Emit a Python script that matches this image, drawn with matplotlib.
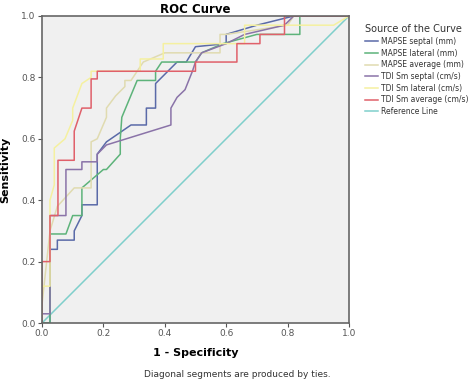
import matplotlib
matplotlib.use("Agg")
import matplotlib.pyplot as plt

# ROC curves (1 - specificity, sensitivity)
mapse_septal_x = [0, 0.026, 0.026, 0.05, 0.05, 0.105, 0.105, 0.13, 0.13, 0.18, 0.18, 0.21,
                  0.29, 0.34, 0.34, 0.37, 0.37, 0.41, 0.44, 0.47, 0.50, 0.60, 0.60, 0.70, 0.82, 1.0]
mapse_septal_y = [0, 0, 0.24, 0.24, 0.27, 0.27, 0.30, 0.35, 0.385, 0.385, 0.55, 0.59,
                  0.645, 0.645, 0.70, 0.70, 0.78, 0.82, 0.85, 0.85, 0.90, 0.91, 0.94, 0.97, 1.0, 1.0]

mapse_lateral_x = [0, 0.026, 0.026, 0.078, 0.10, 0.13, 0.13, 0.20, 0.21, 0.255, 0.255, 0.26,
                   0.31, 0.37, 0.37, 0.39, 0.50, 0.52, 0.59, 0.70, 0.84, 0.84, 1.0]
mapse_lateral_y = [0, 0, 0.29, 0.29, 0.35, 0.35, 0.44, 0.50, 0.50, 0.55, 0.60, 0.67,
                   0.79, 0.79, 0.82, 0.85, 0.85, 0.88, 0.91, 0.94, 0.94, 1.0, 1.0]

mapse_average_x = [0, 0, 0.026, 0.05, 0.105, 0.16, 0.16, 0.18, 0.21, 0.21, 0.24, 0.27, 0.27,
                   0.29, 0.33, 0.40, 0.58, 0.58, 0.60, 0.80, 0.82, 1.0]
mapse_average_y = [0, 0.06, 0.30, 0.38, 0.44, 0.44, 0.59, 0.60, 0.67, 0.70, 0.74, 0.77, 0.79,
                   0.79, 0.85, 0.88, 0.88, 0.94, 0.94, 0.97, 1.0, 1.0]

tdi_septal_x = [0, 0, 0.026, 0.026, 0.078, 0.078, 0.13, 0.13, 0.18, 0.18, 0.21, 0.42, 0.42,
                0.44, 0.466, 0.49, 0.50, 0.52, 0.60, 0.66, 0.79, 0.82, 1.0]
tdi_septal_y = [0, 0.03, 0.03, 0.35, 0.35, 0.50, 0.50, 0.525, 0.525, 0.55, 0.58, 0.645, 0.70,
                0.735, 0.76, 0.82, 0.85, 0.88, 0.91, 0.94, 0.97, 1.0, 1.0]

tdi_lateral_x = [0, 0, 0.026, 0.026, 0.04, 0.04, 0.075, 0.10, 0.10, 0.13, 0.16, 0.16, 0.32,
                 0.32, 0.395, 0.395, 0.66, 0.66, 0.95, 1.0]
tdi_lateral_y = [0, 0.12, 0.12, 0.40, 0.45, 0.57, 0.60, 0.66, 0.70, 0.78, 0.80, 0.82, 0.82,
                 0.86, 0.86, 0.91, 0.91, 0.97, 0.97, 1.0]

tdi_average_x = [0, 0, 0.026, 0.026, 0.052, 0.052, 0.105, 0.105, 0.13, 0.16, 0.16, 0.18, 0.18,
                 0.50, 0.50, 0.635, 0.635, 0.71, 0.71, 0.79, 0.79, 1.0]
tdi_average_y = [0, 0.2, 0.2, 0.35, 0.35, 0.53, 0.53, 0.625, 0.70, 0.70, 0.795, 0.795, 0.82,
                 0.82, 0.85, 0.85, 0.91, 0.91, 0.94, 0.94, 1.0, 1.0]

ref_x = [0, 1]
ref_y = [0, 1]

labels = ["MAPSE septal (mm)", "MAPSE lateral (mm)", "MAPSE average (mm)",
          "TDI Sm septal (cm/s)", "TDI Sm lateral (cm/s)", "TDI Sm average (cm/s)",
          "Reference Line"]
colors = ["#5a6aa8", "#5db37a", "#e0dbb0", "#8a73a8", "#f5f0a0", "#e0606a", "#7fcfcb"]

curves = [(mapse_septal_x, mapse_septal_y), (mapse_lateral_x, mapse_lateral_y),
          (mapse_average_x, mapse_average_y), (tdi_septal_x, tdi_septal_y),
          (tdi_lateral_x, tdi_lateral_y), (tdi_average_x, tdi_average_y),
          (ref_x, ref_y)]

fig = plt.figure(figsize=(4.74, 3.88), dpi=100)
ax = fig.add_axes([0.0886, 0.1675, 0.6476, 0.7913])
ax.set_facecolor("#f0f0f0")

# reference line first so curves sit on top of it
order = [6, 0, 1, 2, 3, 4, 5]
handles = {}
for i in order:
    x, y = curves[i]
    ln, = ax.plot(x, y, color=colors[i], lw=1.1, label=labels[i])
    handles[i] = ln

ax.set_xlim(0, 1)
ax.set_ylim(0, 1)
ticks = [0.0, 0.2, 0.4, 0.6, 0.8, 1.0]
ax.set_xticks(ticks)
ax.set_yticks(ticks)
ax.set_xticklabels([f"{t:.1f}" for t in ticks])
ax.set_yticklabels([f"{t:.1f}" for t in ticks])
ax.tick_params(labelsize=6.5, labelcolor="#555555", color="#555555",
               length=3, width=0.8, pad=1.5)
for s in ax.spines.values():
    s.set_color("#666666")
    s.set_linewidth(1.2)

ax.set_xlabel("1 - Specificity", fontsize=8, fontweight="bold", labelpad=7)
ax.set_ylabel("Sensitivity", fontsize=8, fontweight="bold", labelpad=8)
ax.set_title("ROC Curve", fontsize=8.5, fontweight="bold", pad=0)

fig.text(0.5, 0.022, "Diagonal segments are produced by ties.",
         ha="center", va="bottom", fontsize=6.5, color="#333333")

leg = fig.legend([handles[i] for i in range(7)], labels,
                 loc="upper left", bbox_to_anchor=(0.763, 0.945),
                 title="Source of the Curve", fontsize=5.5, title_fontsize=7,
                 frameon=False, handlelength=1.8, handletextpad=0.3,
                 labelspacing=0.35, borderaxespad=0)
leg._legend_box.align = "left"
leg.get_title().set_color("#333333")
for t in leg.get_texts():
    t.set_color("#333333")

fig.savefig("out.png", dpi=100, facecolor="white")
